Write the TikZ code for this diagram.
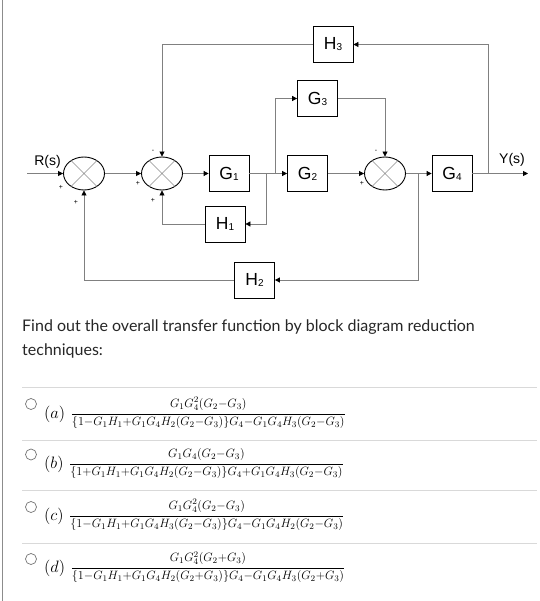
\RequirePackage{fix-cm}
\documentclass[tikz,border=0pt]{standalone}
\usepackage[no-math]{fontspec}
\setmainfont{Lato}
\newfontfamily\arialf{Liberation Sans}
\usetikzlibrary{shapes.geometric,arrows.meta}
\newcommand\blab[2]{{\fontsize{17.5}{17.5}\selectfont #1}{\fontsize{10}{10}\selectfont\raisebox{-1pt}{#2}}}
\newcommand\optfrac[2]{{\fontsize{17.3}{20}\selectfont$\frac{#1\rule[-6pt]{0pt}{0pt}}{#2\rule{0pt}{10.8pt}}$}}
\begin{document}
\begin{tikzpicture}[x=1pt,y=-1pt,
 conn/.style={draw=black!50, line width=0.8pt},
 arr/.style={conn,-{Triangle[length=5pt,width=5pt,color=black]}},
 blk/.style={draw=black,line width=0.8pt,minimum width=40pt,minimum height=36pt,inner sep=0pt,font=\arialf},
 sumj/.style={ellipse,draw=black,line width=0.9pt,minimum width=41pt,minimum height=33pt,inner sep=0pt},
 sgn/.style={font=\arialf\fontsize{7}{7}\selectfont,inner sep=0pt},
 lbl/.style={font=\arialf\fontsize{14}{14}\selectfont,inner sep=0pt},
 radio/.style={circle,draw=black!55,line width=0.7pt,minimum size=11pt,inner sep=0pt},
 opt/.style={anchor=base west,inner sep=0pt,font=\fontsize{16.5}{19}\selectfont},
 sepl/.style={draw=black!15,line width=0.8pt},
 qtext/.style={anchor=west,inner sep=0pt,text=black!85,font=\fontsize{16}{19}\selectfont}
]
\useasboundingbox (0,0) rectangle (539,601);
\draw[black!45,line width=1pt] (2,0) -- (2,601);
% blocks
\node[sumj] (s1) at (84,173.5) {};
\node[sumj] (s2) at (162,173.5) {};
\node[sumj] (s3) at (385,173.5) {};
\foreach \s in {s1,s2,s3}
  \draw[black!45,line width=0.5pt] (\s.45)--(\s.225) (\s.135)--(\s.315);
\node[blk] (G1) at (229,173.5) {\blab{G}{1}};
\node[blk] (H1) at (225,224) {\blab{H}{1}};
\node[blk] (H2) at (254.5,280) {\blab{H}{2}};
\node[blk] (G2) at (307.5,173.5) {\blab{G}{2}};
\node[blk] (G3) at (317.5,98.5) {\blab{G}{3}};
\node[blk] (H3) at (333,44.5) {\blab{H}{3}};
\node[blk] (G4) at (452,173.5) {\blab{G}{4}};
% coordinates
\coordinate (rin) at (27,173.5);
\coordinate (yout) at (528,173.5);
\coordinate (b1) at (266,173.5);
\coordinate (b2) at (275,173.5);
\coordinate (b3) at (418,173.5);
\coordinate (b4) at (488,173.5);
% connectors
\draw[arr] (rin) -- (s1.west);
\draw[arr] (s1.east) -- (s2.west);
\draw[arr] (s2.east) -- (G1.west);
\draw[arr] (G1.east) -- (G2.west);
\draw[arr] (b2) |- (G3.west);
\draw[arr] (b1) |- (H1.east);
\draw[arr] (H1.west) -| (s2.south);
\draw[arr] (G2.east) -- (s3.west);
\draw[arr] (G3.east) -| (s3.north);
\draw[arr] (s3.east) -- (G4.west);
\draw[arr] (b3) |- (H2.east);
\draw[arr] (H2.west) -| (s1.south);
\draw[arr] (G4.east) -- (yout);
\draw[arr] (b4) |- (H3.east);
\draw[arr] (H3.west) -| (s2.north);
% labels
\node[lbl] (R) at (47.5,162) {R(s)};
\node[lbl] (Y) at (512,160) {Y(s)};
\node[sgn] (p1) at (61,187) {+};
\node[sgn] (p2) at (76,202) {+};
\node[sgn] (m2) at (153,151) {-};
\node[sgn] (p3) at (138,183) {+};
\node[sgn] (p4) at (153,200) {+};
\node[sgn] (m3) at (376,151) {-};
\node[sgn] (p5) at (362,183) {+};
% question
\node[qtext] (q1) at (22,327) {Find out the overall transfer function by block diagram reduction};
\node[qtext] (q2) at (22,351) {techniques:};
% separators
\draw[sepl] (22,387) -- (537,387);
\draw[sepl] (22,440) -- (537,440);
\draw[sepl] (22,490) -- (537,490);
\draw[sepl] (22,543) -- (537,543);
% options
\node[radio] (ra) at (31,404) {};
\node[opt] (fa) at (44,418.2) {$(a)$\hspace{5.5pt}\optfrac{G_1G_4^2(G_2-G_3)}{\{1-G_1H_1+G_1G_4H_2(G_2-G_3)\}G_4-G_1G_4H_3(G_2-G_3)}};
\node[radio] (rb) at (31,454.5) {};
\node[opt] (fb) at (44,468.2) {$(b)$\hspace{5.5pt}\optfrac{G_1G_4(G_2-G_3)}{\{1+G_1H_1+G_1G_4H_2(G_2-G_3)\}G_4+G_1G_4H_3(G_2-G_3)}};
\node[radio] (rc) at (31,507) {};
\node[opt] (fc) at (44,520.2) {$(c)$\hspace{5.5pt}\optfrac{G_1G_4^2(G_2-G_3)}{\{1-G_1H_1+G_1G_4H_3(G_2-G_3)\}G_4-G_1G_4H_2(G_2-G_3)}};
\node[radio] (rd) at (31,559) {};
\node[opt] (fd) at (44,572.7) {$(d)$\hspace{5.5pt}\optfrac{G_1G_4^2(G_2+G_3)}{\{1-G_1H_1+G_1G_4H_2(G_2+G_3)\}G_4-G_1G_4H_3(G_2+G_3)}};
\end{tikzpicture}
\end{document}
